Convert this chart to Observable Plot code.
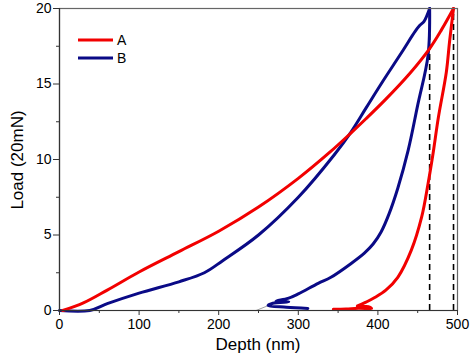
<!DOCTYPE html>
<html>
<head>
<meta charset="utf-8">
<script src="https://cdn.jsdelivr.net/npm/d3@7"></script>
<script src="https://cdn.jsdelivr.net/npm/@observablehq/plot@0.6"></script>
<style>
  html, body { margin: 0; padding: 0; background: #fff; }
  #wrap { position: relative; width: 474px; height: 362px; font-family: "Liberation Sans", Arial, sans-serif; }
  #legend { position: absolute; left: 0; top: 0; pointer-events: none; }
</style>
</head>
<body>
<div id="wrap"></div>
<script>
// Series A (red)
const depthA_load = [4, 30, 60, 100, 150, 200, 250, 300, 340, 366, 385, 410, 440, 465, 480, 495];
const loadA_load  = [0, 0.5, 1.35, 2.55, 3.9, 5.25, 6.85, 8.75, 10.5, 11.75, 12.7, 14.0, 15.7, 17.35, 18.6, 20];
const depthA_unload = [495, 490, 486, 476, 469, 463, 455, 442, 425, 410, 396, 385, 379, 374, 388, 392, 376, 360, 344];
const loadA_unload  = [20, 17.8, 15.8, 12.8, 10.3, 8.4, 6.2, 4.0, 2.2, 1.35, 0.86, 0.55, 0.4, 0.3, 0.25, 0.12, 0.15, 0.1, 0.08];
// Series B (navy)
const depthB_load = [0, 38, 60, 100, 150, 182, 205, 250, 300, 345, 366, 385, 404, 430, 447, 453, 458, 465];
const loadB_load  = [0, 0, 0.45, 1.15, 1.9, 2.5, 3.3, 5.0, 7.5, 10.3, 11.8, 13.4, 15.0, 17.1, 18.5, 18.9, 19.15, 20];
const depthB_unload = [465, 463, 450, 438, 425, 414, 404, 394, 383, 366, 341, 325, 300, 287, 272, 288, 268, 262, 285, 312];
const loadB_unload  = [20, 16.9, 13.6, 10.6, 8.1, 6.4, 5.2, 4.4, 3.8, 3.1, 2.2, 1.8, 1.1, 0.8, 0.62, 0.58, 0.48, 0.33, 0.22, 0.14];
// thin grey fit segment near B's end
const fitDepth = [247, 268];
const fitLoad = [0, 0.45];
// max-depth markers
const maxDepths = [465, 495];
const xTicks = [0, 100, 200, 300, 400, 500];
const xMinor = [50, 150, 250, 350, 450];
const yTicks = [0, 5, 10, 15, 20];
const yMinor = [2.5, 7.5, 12.5, 17.5];
const seriesNames = ["A", "B"];
const seriesColors = ["#f20000", "#0a0a86"];

const rows = (name, part, xs, ys) => xs.map((d, i) => ({series: name, part, depth: d, load: ys[i]}));
const dataA = [...rows("A", "load", depthA_load, loadA_load), ...rows("A", "unload", depthA_unload, loadA_unload)];
const dataB = [...rows("B", "load", depthB_load, loadB_load), ...rows("B", "unload", depthB_unload, loadB_unload)];
const fit = fitDepth.map((d, i) => ({depth: d, load: fitLoad[i]}));

const font = "Liberation Sans, Arial, sans-serif";
const chart = Plot.plot({
  width: 474,
  height: 362,
  marginLeft: 59,
  marginRight: 17,
  marginTop: 8,
  marginBottom: 52,
  style: {fontFamily: font, fontSize: "14px", color: "#000", background: "#fff"},
  x: {domain: [0, 500]},
  y: {domain: [0, 20]},
  marks: [
    Plot.ruleX(maxDepths, {y1: 0, y2: 20, stroke: "#000", strokeWidth: 1.6, strokeDasharray: "6,4"}),
    Plot.line(fit, {x: "depth", y: "load", stroke: "#888", strokeWidth: 0.8}),
    Plot.line(dataB, {x: "depth", y: "load", z: "part", stroke: seriesColors[1], strokeWidth: 3, curve: "catmull-rom"}),
    Plot.line(dataA, {x: "depth", y: "load", z: "part", stroke: seriesColors[0], strokeWidth: 3, curve: "catmull-rom"}),
    Plot.frame({stroke: "#666", strokeWidth: 1.2}),
    Plot.ruleY([0], {stroke: "#333", strokeWidth: 1.2}),
    Plot.ruleX([0], {stroke: "#333", strokeWidth: 1.2}),
    Plot.axisX({ticks: xTicks, tickSize: 5, tickPadding: 4, fontSize: 14, label: null, stroke: "#333"}),
    Plot.axisX({ticks: xMinor, tickSize: 3, text: null, label: null, stroke: "#333"}),
    Plot.axisY({ticks: yTicks, tickSize: 6, tickPadding: 2, fontSize: 14, label: null, stroke: "#333"}),
    Plot.axisY({ticks: yMinor, tickSize: 3, text: null, label: null, stroke: "#333"})
  ]
});
const wrap = document.getElementById("wrap");
wrap.appendChild(chart);

// axis titles and legend as an overlay SVG
const ns = "http://www.w3.org/2000/svg";
const ov = document.createElementNS(ns, "svg");
ov.setAttribute("id", "legend");
ov.setAttribute("width", 474);
ov.setAttribute("height", 362);
function txt(x, y, s, size, anchor, rot) {
  const t = document.createElementNS(ns, "text");
  t.setAttribute("x", x); t.setAttribute("y", y);
  t.setAttribute("font-size", size);
  t.setAttribute("font-family", font);
  t.setAttribute("text-anchor", anchor);
  if (rot) t.setAttribute("transform", rot);
  t.textContent = s;
  ov.appendChild(t);
}
txt(258, 350, "Depth (nm)", 17, "middle");
txt(0, 0, "Load (20mN)", 17, "middle", "translate(23,160) rotate(-90)");
seriesNames.forEach((n, i) => {
  const y = 40 + i * 18;
  const l = document.createElementNS(ns, "line");
  l.setAttribute("x1", 78); l.setAttribute("x2", 113);
  l.setAttribute("y1", y); l.setAttribute("y2", y);
  l.setAttribute("stroke", seriesColors[i]); l.setAttribute("stroke-width", 3);
  ov.appendChild(l);
  txt(117, y + 5, n, 14, "start");
});
wrap.appendChild(ov);
</script>
</body>
</html>
